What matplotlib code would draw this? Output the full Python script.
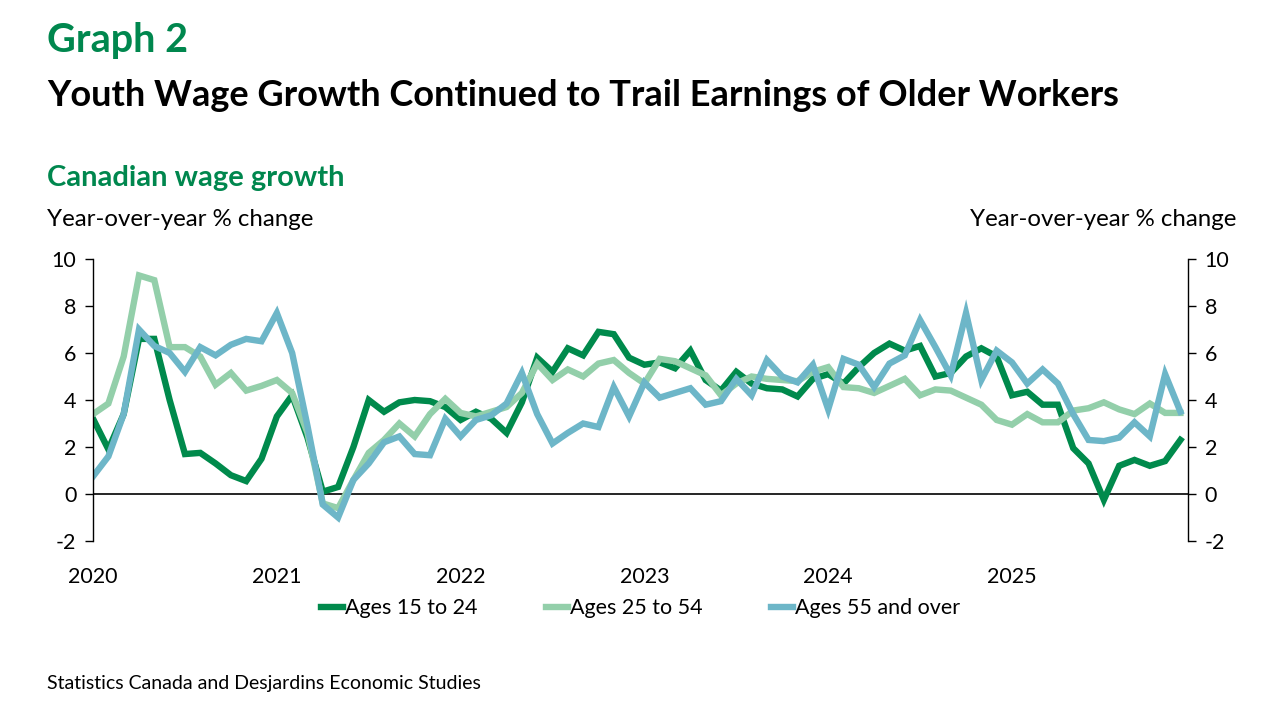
import numpy as np
import matplotlib.pyplot as plt

# monthly data, Jan 2020 .. Dec 2025 (year-over-year % change)
ages_15_24 = [3.2, 1.9, 3.4, 6.6, 6.6, 4.0, 1.7, 1.75, 1.3, 0.8, 0.55, 1.5,
              3.3, 4.2, 2.4, 0.1, 0.3, 2.0, 4.0, 3.5, 3.9, 4.0, 3.95, 3.7,
              3.15, 3.5, 3.2, 2.6, 3.9, 5.8, 5.2, 6.2, 5.9, 6.9, 6.8, 5.8,
              5.5, 5.6, 5.35, 6.1, 4.85, 4.4, 5.2, 4.7, 4.5, 4.45, 4.15, 4.9,
              5.1, 4.7, 5.4, 6.0, 6.4, 6.1, 6.3, 5.0, 5.15, 5.85, 6.2, 5.85,
              4.2, 4.35, 3.8, 3.8, 1.95, 1.3, -0.25, 1.2, 1.45, 1.2, 1.4, 2.3]
ages_25_54 = [3.4, 3.85, 5.85, 9.3, 9.1, 6.25, 6.25, 5.85, 4.65, 5.15, 4.4, 4.6,
              4.85, 4.3, 2.6, -0.4, -0.6, 0.6, 1.75, 2.3, 3.0, 2.45, 3.4, 4.05,
              3.45, 3.3, 3.5, 3.7, 4.3, 5.55, 4.85, 5.3, 5.0, 5.55, 5.7, 5.15,
              4.7, 5.75, 5.65, 5.35, 5.05, 4.2, 4.7, 5.0, 4.9, 4.85, 4.8, 5.2,
              5.4, 4.55, 4.5, 4.3, 4.6, 4.9, 4.2, 4.45, 4.4, 4.1, 3.8, 3.15,
              2.95, 3.4, 3.05, 3.05, 3.55, 3.65, 3.9, 3.6, 3.4, 3.85, 3.45, 3.45]
ages_55_over = [0.75, 1.6, 3.4, 7.0, 6.3, 6.0, 5.2, 6.25, 5.9, 6.35, 6.6, 6.5,
                7.7, 6.0, 2.9, -0.45, -1.0, 0.6, 1.3, 2.2, 2.45, 1.7, 1.65, 3.2,
                2.45, 3.15, 3.35, 3.85, 5.15, 3.4, 2.15, 2.6, 3.0, 2.85, 4.55, 3.3,
                4.75, 4.1, 4.3, 4.5, 3.8, 3.95, 4.9, 4.2, 5.7, 5.0, 4.75, 5.5,
                3.6, 5.75, 5.5, 4.55, 5.55, 5.9, 7.4, 6.25, 5.05, 7.7, 4.85, 6.1,
                5.6, 4.7, 5.3, 4.7, 3.4, 2.3, 2.25, 2.4, 3.05, 2.45, 5.1, 3.5]
years = ['2020', '2021', '2022', '2023', '2024', '2025']
labels = ['Ages 15 to 24', 'Ages 25 to 54', 'Ages 55 and over']
colors = ['#008a4c', '#93cfaa', '#6db6c8']

plt.rcParams['font.family'] = ['Lato', 'DejaVu Sans']
plt.rcParams['axes.unicode_minus'] = False

fig = plt.figure(figsize=(12.8, 7.2), dpi=100)
ax = fig.add_axes([0.0727, 0.2486, 0.8555, 0.3917])

x = np.arange(len(ages_15_24))
for series, lab, c in zip([ages_15_24, ages_25_54, ages_55_over], labels, colors):
    ax.plot(x, series, color=c, lw=4.6, label=lab, solid_joinstyle='miter')

ax.axhline(0, color='black', lw=1.2, zorder=0)
ax.set_xlim(0, 71.5)
ax.set_ylim(-2, 10)
ax.set_yticks(range(-2, 11, 2))
ax.set_xticks(np.arange(len(years)) * 12)
ax.set_xticklabels(years)
ax.tick_params(axis='x', length=0, labelsize=15.5, pad=19)
ax.tick_params(axis='y', labelsize=15.5, length=6, width=1, direction='out',
               left=True, right=True, labelleft=True, labelright=True, pad=6)
for s in ['top', 'bottom']:
    ax.spines[s].set_visible(False)
ax.spines['left'].set_linewidth(1)
ax.spines['right'].set_linewidth(1)

ax.legend(loc='upper center', bbox_to_anchor=(0.5, -0.135), ncol=3, frameon=False,
          fontsize=15.5, handlelength=1.0, handletextpad=0.1, columnspacing=3.2)

fig.text(0.037, 0.928, 'Graph 2', color='#00874e', fontsize=28.5, fontweight='bold', va='baseline')
fig.text(0.037, 0.853, 'Youth Wage Growth Continued to Trail Earnings of Older Workers',
         color='black', fontsize=26, fontweight='bold', va='baseline')
fig.text(0.037, 0.741, 'Canadian wage growth', color='#00874e', fontsize=21,
         fontweight='bold', va='baseline')
fig.text(0.037, 0.686, 'Year-over-year % change', fontsize=17.3, va='baseline')
fig.text(0.966, 0.686, 'Year-over-year % change', fontsize=17.3, va='baseline', ha='right')
fig.text(0.037, 0.043, 'Statistics Canada and Desjardins Economic Studies', fontsize=14,
         va='baseline')

fig.savefig('out.png', dpi=100)
